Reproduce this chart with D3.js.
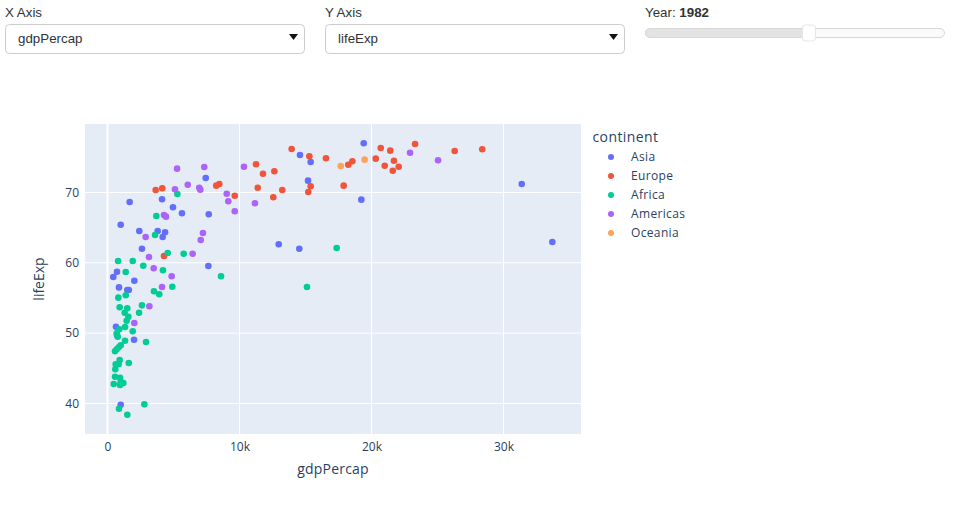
<!DOCTYPE html>
<html>
<head>
<meta charset="utf-8">
<script src="https://cdn.jsdelivr.net/npm/d3@7"></script>
<style>
html,body{margin:0;padding:0;background:#fff;overflow:hidden}
svg{display:block}
</style>
</head>
<body>
<svg id="c" width="956" height="519"></svg>
<script>
const continents = ["Asia","Europe","Africa","Americas","Oceania"];
const colors = ["#636efa","#EF553B","#00cc96","#ab63fa","#FFA15A"];
const xTicks = [0,10000,20000,30000];
const xTickLabels = ["0","10k","20k","30k"];
const yTicks = [40,50,60,70];
const xTitle = "gdpPercap", yTitle = "lifeExp", legendTitle = "continent";
const year = "1982";

// [gdpPercap in thousands, lifeExp]
const asia = [[1.68,68.65],[4.13,69.03],[4.96,67.9],[5.64,67.04],[7.67,66.9],[7.44,72.06],[1.0,65.42],[2.41,64.52],[3.8,64.52],[4.36,64.34],[4.18,63.67],[2.61,62.0],[7.64,59.55],[0.72,58.73],[0.44,57.98],[2.03,57.45],[0.87,56.5],[1.5,56.13],[1.61,56.13],[0.64,50.9],[0.72,49.73],[2.01,49.06],[1.0,39.82],[19.41,77.0],[14.58,75.33],[15.39,74.34],[15.19,71.68],[19.23,68.98],[12.97,62.63],[14.53,62.0],[31.38,71.21],[33.7,62.96]];
const europe = [[3.65,70.36],[4.15,70.6],[8.24,70.97],[8.47,71.21],[9.64,69.54],[4.28,60.97],[13.95,76.19],[15.29,75.15],[16.55,74.86],[11.25,74.01],[11.78,72.67],[12.64,73.02],[11.38,70.68],[13.24,70.36],[12.56,69.32],[15.39,70.88],[15.21,70.07],[17.89,70.97],[18.24,73.95],[18.55,74.44],[20.32,74.81],[20.7,76.33],[21.42,75.95],[21.7,74.52],[21.0,73.81],[22.06,73.67],[21.61,73.1],[23.3,76.9],[26.3,75.9],[28.39,76.15]];
const africa = [[5.29,69.79],[3.7,66.66],[3.6,63.95],[4.56,61.39],[5.77,61.29],[0.8,60.26],[1.91,60.26],[2.71,59.59],[1.38,58.69],[4.2,58.93],[8.6,58.08],[1.38,55.38],[0.82,55.04],[4.91,56.6],[3.52,55.95],[3.92,55.52],[0.92,53.67],[1.5,53.53],[2.61,53.95],[1.3,52.9],[2.39,52.9],[1.58,52.33],[1.45,51.76],[1.33,50.87],[0.89,50.54],[1.91,50.26],[0.7,49.97],[0.77,49.49],[1.33,48.92],[2.92,48.73],[1.0,48.26],[0.85,47.98],[0.7,47.7],[0.57,47.41],[0.92,46.17],[1.61,45.75],[0.85,45.6],[0.62,45.56],[0.59,44.85],[0.57,43.8],[0.95,43.66],[1.2,42.9],[0.95,42.62],[1.0,43.09],[0.47,42.76],[2.79,39.87],[0.87,39.25],[1.5,38.39],[17.36,62.1],[15.11,56.56]];
const americas = [[5.27,73.39],[7.33,73.63],[10.34,73.67],[5.11,70.46],[6.08,71.11],[6.95,70.68],[7.03,70.4],[9.03,69.83],[9.15,68.75],[9.64,67.33],[4.28,66.8],[4.43,66.56],[7.23,64.24],[7.06,63.24],[2.89,63.67],[3.14,60.82],[6.45,61.29],[3.5,59.22],[4.86,58.08],[4.13,56.56],[3.17,53.81],[2.03,51.44],[11.17,68.46],[22.92,75.66],[25.04,74.58]];
const oceania = [[17.67,73.77],[19.48,74.67]];
const series = [asia,europe,africa,americas,oceania];

const svg = d3.select("#c");
const L=85,R=581,T=124,B=434;
const x = d3.scaleLinear().domain([-1705,35870]).range([L,R]);
const y = d3.scaleLinear().domain([35.65,79.74]).range([B,T]);
const ink="#2a3f5f", uiFont="'Liberation Sans',Arial,sans-serif", plotFont="'Open Sans',sans-serif";

// controls
function dropdown(x0,label,val){
  svg.append("text").attr("x",x0).attr("y",17).attr("font-family",uiFont).attr("font-size",13.33).attr("fill","#333").text(label);
  svg.append("rect").attr("x",x0+.5).attr("y",24.5).attr("width",299).attr("height",29).attr("rx",4).attr("fill","#fff").attr("stroke","#ccc");
  svg.append("text").attr("x",x0+13).attr("y",43).attr("font-family",uiFont).attr("font-size",13.33).attr("fill","#333").text(val);
  svg.append("path").attr("d",`M${x0+284} 34h9l-4.5 6z`).attr("fill","#111");
}
dropdown(5,"X Axis",xTitle);
dropdown(325,"Y Axis",yTitle);
const yr=svg.append("text").attr("x",645).attr("y",17).attr("font-family",uiFont).attr("font-size",13.33).attr("fill","#333");
yr.append("tspan").text("Year: ");
yr.append("tspan").attr("font-weight","bold").text(year);
svg.append("rect").attr("x",645.5).attr("y",28.5).attr("width",299).attr("height",9).attr("rx",4.5).attr("fill","#fafafa").attr("stroke","#d8d8d8");
svg.append("path").attr("d","M650 28.5H808v9H650a4.5 4.5 0 0 1 0-9z").attr("fill","#e3e3e3").attr("stroke","#d8d8d8");
svg.append("rect").attr("x",802.5).attr("y",25).attr("width",13).attr("height",16).attr("rx",3).attr("fill","#fff").attr("stroke","#e6e6e6");

// plot
svg.append("rect").attr("x",L).attr("y",T).attr("width",R-L).attr("height",B-T).attr("fill","#E5ECF6");
const gx = svg.append("g").attr("transform",`translate(0,${B})`)
  .call(d3.axisBottom(x).tickValues(xTicks).tickFormat((d,i)=>xTickLabels[i]).tickSize(0).tickPadding(8));
const gy = svg.append("g").attr("transform",`translate(${L},0)`)
  .call(d3.axisLeft(y).tickValues(yTicks).tickSize(0).tickPadding(6));
[gx,gy].forEach(g=>{
  g.select(".domain").remove();
  g.selectAll("text").attr("font-family",plotFont).attr("font-size",12).attr("fill",ink);
});
svg.insert("g","g").selectAll("line").data(yTicks).join("line")
  .attr("x1",L).attr("x2",R).attr("y1",d=>y(d)).attr("y2",d=>y(d)).attr("stroke","#fff");
svg.insert("g","g").selectAll("line").data(xTicks).join("line")
  .attr("x1",d=>x(d)).attr("x2",d=>x(d)).attr("y1",T).attr("y2",B).attr("stroke","#fff").attr("stroke-width",d=>d===0?2:1);

series.forEach((s,i)=>{
  svg.append("g").selectAll("circle").data(s).join("circle")
    .attr("cx",d=>x(d[0]*1000)).attr("cy",d=>y(d[1])).attr("r",3.3).attr("fill",colors[i]);
});

svg.append("text").attr("x",333).attr("y",474).attr("text-anchor","middle").attr("font-family",plotFont).attr("font-size",14).attr("letter-spacing",0.2).attr("fill",ink).text(xTitle);
svg.append("text").attr("transform","translate(44,279) rotate(-90)").attr("text-anchor","middle").attr("font-family",plotFont).attr("font-size",14).attr("fill",ink).text(yTitle);

// legend
svg.append("text").attr("x",592.5).attr("y",142).attr("font-family",plotFont).attr("font-size",14).attr("letter-spacing",0.4).attr("fill",ink).text(legendTitle);
continents.forEach((c,i)=>{
  const ly=157+i*19;
  svg.append("circle").attr("cx",611).attr("cy",ly).attr("r",3).attr("fill",colors[i]);
  svg.append("text").attr("x",631).attr("y",ly+4).attr("font-family",plotFont).attr("font-size",12).attr("letter-spacing",0.35).attr("fill",ink).text(c);
});
</script>
</body>
</html>
